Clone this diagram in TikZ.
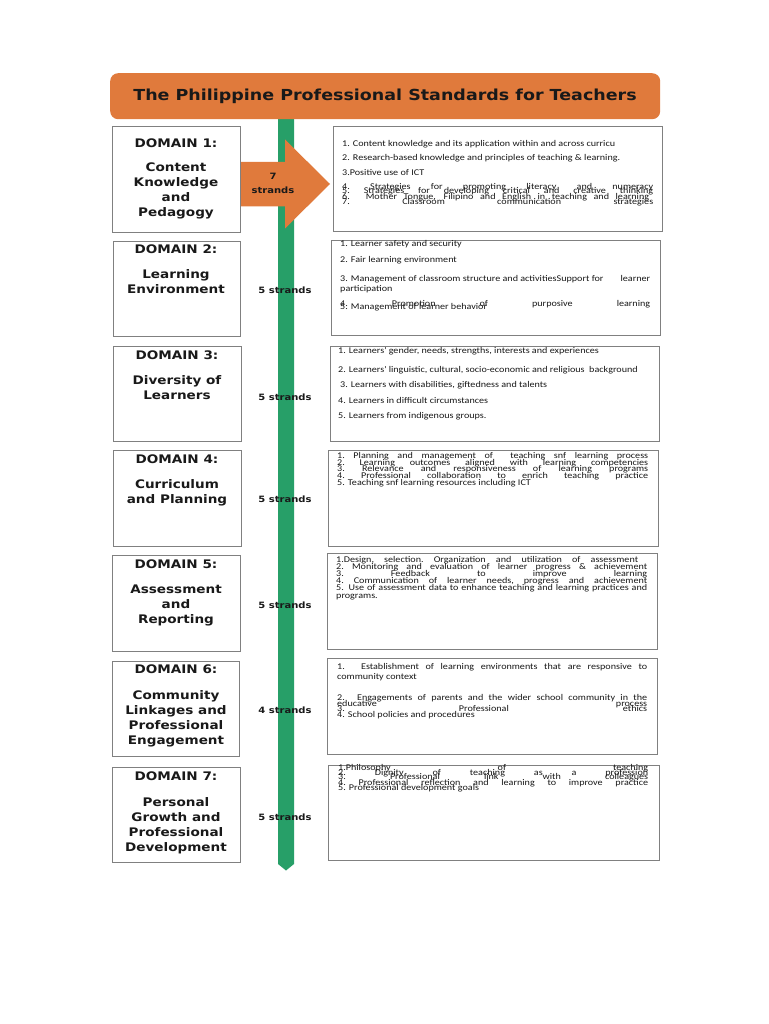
\documentclass[tikz,border=0pt]{standalone}
\usepackage{fontspec}
\newfontfamily\vfont[FakeStretch=1.15]{DejaVu Sans}
\newfontfamily\cfont[FakeStretch=1.15]{Carlito}
\definecolor{ppstorange}{HTML}{E07A3C}
\definecolor{ppstgreen}{HTML}{279F68}
\definecolor{boxgray}{HTML}{808080}
\newcommand\jl[2]{\hbox to #1pt{#2}}
\begin{document}
\begin{tikzpicture}[x=1pt,y=-1pt,
  dombox/.style={draw=boxgray, line width=1.3pt, fill=white, inner sep=0pt, anchor=north west},
  titlebox/.style={fill=ppstorange, rounded corners=8pt, inner sep=0pt, anchor=north west, minimum width=550pt, minimum height=46pt},
  titletext/.style={anchor=base, inner sep=0pt, font=\vfont\bfseries\fontsize{15.2}{18}\selectfont, text=black!90},
  dtext/.style={anchor=base, inner sep=0pt, font=\vfont\bfseries\fontsize{11.8}{14}\selectfont, text=black!90},
  strand/.style={anchor=base, inner sep=0pt, font=\vfont\bfseries\fontsize{8.7}{10}\selectfont, text=black!90},
  rtext/.style={anchor=base west, inner sep=0pt, font=\cfont\fontsize{8.8}{11}\selectfont, text=black!90}
]
\useasboundingbox[fill=white] (0,0) rectangle (768,1024);

% green timeline bar
\fill[ppstgreen] (278,119) -- (294,119) -- (294,864) -- (286,870.5) -- (278,864) -- cycle;

% title
\node[titlebox] (title) at (110,73) {};
\node[titletext] (titlet) at (385,101) {The Philippine Professional Standards for Teachers};

% orange arrow for domain 1
\fill[ppstorange] (239,162) -- (285,162) -- (285,139.5) -- (330,184) -- (285,228.5) -- (285,206.5) -- (239,206.5) -- cycle;

% domain boxes
\node[dombox, minimum width=128pt, minimum height=106pt] (d1) at (112,126) {};
\node[dombox, minimum width=127pt, minimum height=95pt] (d2) at (113,241) {};
\node[dombox, minimum width=128pt, minimum height=95pt] (d3) at (113,346) {};
\node[dombox, minimum width=128pt, minimum height=96pt] (d4) at (113,450) {};
\node[dombox, minimum width=128pt, minimum height=96pt] (d5) at (112,555) {};
\node[dombox, minimum width=127pt, minimum height=95pt] (d6) at (112,661) {};
\node[dombox, minimum width=128pt, minimum height=95pt] (d7) at (112,767) {};

% strand boxes
\node[dombox, minimum width=329pt, minimum height=105pt] (r1) at (333,126) {};
\node[dombox, minimum width=329pt, minimum height=95pt] (r2) at (331,240) {};
\node[dombox, minimum width=329pt, minimum height=95pt] (r3) at (330,346) {};
\node[dombox, minimum width=330pt, minimum height=96pt] (r4) at (328,450) {};
\node[dombox, minimum width=330pt, minimum height=96pt] (r5) at (327,553) {};
\node[dombox, minimum width=330pt, minimum height=96pt] (r6) at (327,658) {};
\node[dombox, minimum width=331pt, minimum height=95pt] (r7) at (328,765) {};

% domain texts
\node[dtext] (d1h) at (176,147.5) {DOMAIN 1:};
\node[dtext] (d1a) at (176,172) {Content};
\node[dtext] (d1b) at (176,187) {Knowledge};
\node[dtext] (d1c) at (176,202) {and};
\node[dtext] (d1d) at (176,217) {Pedagogy};

\node[dtext] (d2h) at (176,253.5) {DOMAIN 2:};
\node[dtext] (d2a) at (176,278) {Learning};
\node[dtext] (d2b) at (176,293) {Environment};

\node[dtext] (d3h) at (177,359.5) {DOMAIN 3:};
\node[dtext] (d3a) at (177,384) {Diversity of};
\node[dtext] (d3b) at (177,399) {Learners};

\node[dtext] (d4h) at (177,463.5) {DOMAIN 4:};
\node[dtext] (d4a) at (177,488) {Curriculum};
\node[dtext] (d4b) at (177,503) {and Planning};

\node[dtext] (d5h) at (176,568.5) {DOMAIN 5:};
\node[dtext] (d5a) at (176,593) {Assessment};
\node[dtext] (d5b) at (176,608) {and};
\node[dtext] (d5c) at (176,623) {Reporting};

\node[dtext] (d6h) at (176,673.5) {DOMAIN 6:};
\node[dtext] (d6a) at (176,699) {Community};
\node[dtext] (d6b) at (176,714) {Linkages and};
\node[dtext] (d6c) at (176,729) {Professional};
\node[dtext] (d6d) at (176,744) {Engagement};

\node[dtext] (d7h) at (176,780.5) {DOMAIN 7:};
\node[dtext] (d7a) at (176,806) {Personal};
\node[dtext] (d7b) at (176,821) {Growth and};
\node[dtext] (d7c) at (176,836) {Professional};
\node[dtext] (d7d) at (176,851) {Development};

% strand counts
\node[strand] (s1a) at (273,180) {7};
\node[strand] (s1b) at (273,193.5) {strands};
\node[strand] (s2) at (285,293) {5 strands};
\node[strand] (s3) at (285,400) {5 strands};
\node[strand] (s4) at (285,502) {5 strands};
\node[strand] (s5) at (285,608) {5 strands};
\node[strand] (s6) at (285,713) {4 strands};
\node[strand] (s7) at (285,820) {5 strands};

% domain 1 strands
\node[rtext] (r1l1) at (342,146.5) {1. Content knowledge and its application within and across curricu};
\node[rtext] (r1l2) at (342,161) {2. Research-based knowledge and principles of teaching \& learning.};
\node[rtext] (r1l3) at (342,175.5) {3.Positive use of ICT};
\node[rtext] (r1l4) at (342,190) {\jl{311}{4.\hfill Strategies\hfill for\hfill promoting\hfill literacy\hfill and\hfill numeracy}};
\node[rtext] (r1l5) at (342,194) {\jl{311}{5.\hfill Strategies\hfill for\hfill developing\hfill critical\hfill and\hfill creative\hfill thinking}};
\node[rtext] (r1l6) at (342,199.5) {\jl{307}{6. Mother Tongue, Filipino and English in teaching and learning}};
\node[rtext] (r1l7) at (342,205) {\jl{311}{7.\hfill Classroom\hfill communication\hfill strategies}};

% domain 2 strands
\node[rtext] (r2l1) at (340,246) {1. Learner safety and security};
\node[rtext] (r2l2) at (340,262) {2. Fair learning environment};
\node[rtext] (r2l3) at (340,281) {\jl{310}{3. Management of classroom structure and activitiesSupport for\hfill learner}};
\node[rtext] (r2l3b) at (340,291) {participation};
\node[rtext] (r2l4) at (340,306) {\jl{310}{4.\hfill Promotion\hfill of\hfill purposive\hfill learning}};
\node[rtext] (r2l5) at (340,309.5) {5. Management of learner behavior};

% domain 3 strands
\node[rtext] (r3l1) at (338,353.5) {1. Learners' gender, needs, strengths, interests and experiences};
\node[rtext] (r3l2) at (338,372) {2. Learners' linguistic, cultural, socio-economic and religious\ \ background};
\node[rtext] (r3l3) at (340,387) {3. Learners with disabilities, giftedness and talents};
\node[rtext] (r3l4) at (338,403) {4. Learners in difficult circumstances};
\node[rtext] (r3l5) at (338,418) {5. Learners from indigenous groups.};

% domain 4 strands
\node[rtext] (r4l1) at (337,458.5) {\jl{311}{1.\hfill Planning\hfill and\hfill management\hfill of\hfill\hfill teaching\hfill snf\hfill learning\hfill process}};
\node[rtext] (r4l2) at (337,465) {\jl{311}{2.\hfill Learning\hfill outcomes\hfill aligned\hfill with\hfill learning\hfill competencies}};
\node[rtext] (r4l3) at (337,471.5) {\jl{311}{3.\hfill Relevance\hfill and\hfill responsiveness\hfill of\hfill learning\hfill programs}};
\node[rtext] (r4l4) at (337,478.5) {\jl{311}{4.\hfill Professional\hfill collaboration\hfill to\hfill enrich\hfill teaching\hfill practice}};
\node[rtext] (r4l5) at (337,485) {5. Teaching snf learning resources including ICT};

% domain 5 strands
\node[rtext] (r5l1) at (336,562) {\jl{302}{1.Design,\hfill selection.\hfill Organization\hfill and\hfill utilization\hfill of\hfill assessment}};
\node[rtext] (r5l2) at (336,569) {\jl{311}{2.\hfill Monitoring\hfill and\hfill evaluation\hfill of\hfill learner\hfill progress\hfill \&\hfill achievement}};
\node[rtext] (r5l3) at (336,576) {\jl{311}{3.\hfill Feedback\hfill to\hfill improve\hfill learning}};
\node[rtext] (r5l4) at (336,583.5) {\jl{311}{4.\hfill Communication\hfill of\hfill learner\hfill needs,\hfill progress\hfill and\hfill achievement}};
\node[rtext] (r5l5) at (336,590.5) {\jl{311}{5. Use of assessment data to enhance teaching and learning practices and}};
\node[rtext] (r5l6) at (336,598) {programs.};

% domain 6 strands
\node[rtext] (r6l1) at (337,669) {\jl{310}{1. Establishment of learning environments that are responsive to}};
\node[rtext] (r6l1b) at (337,679) {community context};
\node[rtext] (r6l2) at (337,700) {\jl{310}{2. Engagements of parents and the wider school community in the}};
\node[rtext] (r6l2b) at (337,706) {\jl{310}{educative\hfill process}};
\node[rtext] (r6l3) at (337,711.5) {\jl{310}{3.\hfill Professional\hfill ethics}};
\node[rtext] (r6l4) at (337,717.5) {4. School policies and procedures};

% domain 7 strands
\node[rtext] (r7l1) at (338,770) {\jl{310}{1.Philosophy\hfill of\hfill teaching}};
\node[rtext] (r7l2) at (338,775) {\jl{310}{2.\hfill Dignity\hfill of\hfill teaching\hfill as\hfill a\hfill profession}};
\node[rtext] (r7l3) at (338,779.5) {\jl{310}{3.\hfill Professional\hfill link\hfill with\hfill colleagues}};
\node[rtext] (r7l4) at (338,785) {\jl{310}{4.\hfill Professional\hfill reflection\hfill and\hfill learning\hfill to\hfill improve\hfill practice}};
\node[rtext] (r7l5) at (338,790) {5. Professional development goals};
\end{tikzpicture}
\end{document}
